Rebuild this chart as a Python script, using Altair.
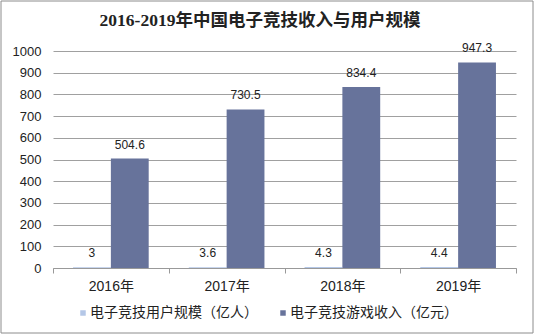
import altair as alt
import pandas as pd

title_text = "2016-2019年中国电子竞技收入与用户规模"
years = ["2016年", "2017年", "2018年", "2019年"]
users = [3, 3.6, 4.3, 4.4]
revenue = [504.6, 730.5, 834.4, 947.3]
series = ["电子竞技用户规模（亿人）", "电子竞技游戏收入（亿元）"]
colors = ["#b4c7e7", "#67739b"]
y_ticks = list(range(0, 1001, 100))

rows = []
for i, yr in enumerate(years):
    rows.append({"year": yr, "series": series[0], "value": users[i], "label": f"{users[i]:g}"})
    rows.append({"year": yr, "series": series[1], "value": revenue[i], "label": f"{revenue[i]:g}"})
df = pd.DataFrame(rows)

FONT = "Liberation Sans, Noto Sans CJK SC"

x = alt.X("year:N", sort=years, title=None,
          scale=alt.Scale(paddingInner=0, paddingOuter=0),
          axis=alt.Axis(labelAngle=0, labelFontSize=14, labelFont=FONT, labelColor="#222",
                        domainColor="#999", tickColor="#999", tickSize=5,
                        tickBand="extent", labelPadding=6, grid=False))
xo = alt.XOffset("series:N", sort=series,
                 scale=alt.Scale(paddingOuter=0.53, paddingInner=0))
y = alt.Y("value:Q", title=None,
          scale=alt.Scale(domain=[0, 1000], nice=False),
          axis=alt.Axis(values=y_ticks, format="d", labelFontSize=13, labelFont=FONT,
                        labelColor="#222", domain=False, ticks=False, labelPadding=12,
                        gridColor="#a0a0a0", gridWidth=1))

base = alt.Chart(df)

bars = base.mark_bar().encode(
    x=x, xOffset=xo, y=y,
    color=alt.Color("series:N", sort=series,
                    scale=alt.Scale(domain=series, range=colors),
                    legend=alt.Legend(title=None, orient="none", direction="horizontal",
                                      legendX=23, legendY=255, symbolType="square",
                                      symbolSize=30, labelFontSize=14, labelFont=FONT,
                                      labelColor="#222", columnPadding=18, labelLimit=0,
                                      symbolStrokeWidth=0, labelOffset=0)),
)

labels = base.mark_text(dy=-14, fontSize=12, font=FONT, color="#222").encode(
    x=x, xOffset=xo, y=y, text="label:N"
)

one = pd.DataFrame({"t": [title_text]})

border = alt.Chart(one).mark_rect(
    fill="white", fillOpacity=0, stroke="#8c8c8c", strokeWidth=1
).encode(x=alt.value(-52), x2=alt.value(480), y=alt.value(-50), y2=alt.value(282))

title = alt.Chart(one).mark_text(
    font="Liberation Serif, Noto Sans CJK SC", fontSize=17.5, fontWeight="bold",
    color="#222", align="center", baseline="middle"
).encode(x=alt.value(207), y=alt.value(-30), text="t:N")

chart = alt.layer(border, bars, labels, title).properties(
    width=463, height=217,
    autosize=alt.AutoSizeParams(type="none"),
    padding={"left": 53, "top": 51, "right": 20, "bottom": 68},
    background="white",
).configure_view(stroke=None)

chart.save("out.html", embed_options={"renderer": "svg", "actions": False})
